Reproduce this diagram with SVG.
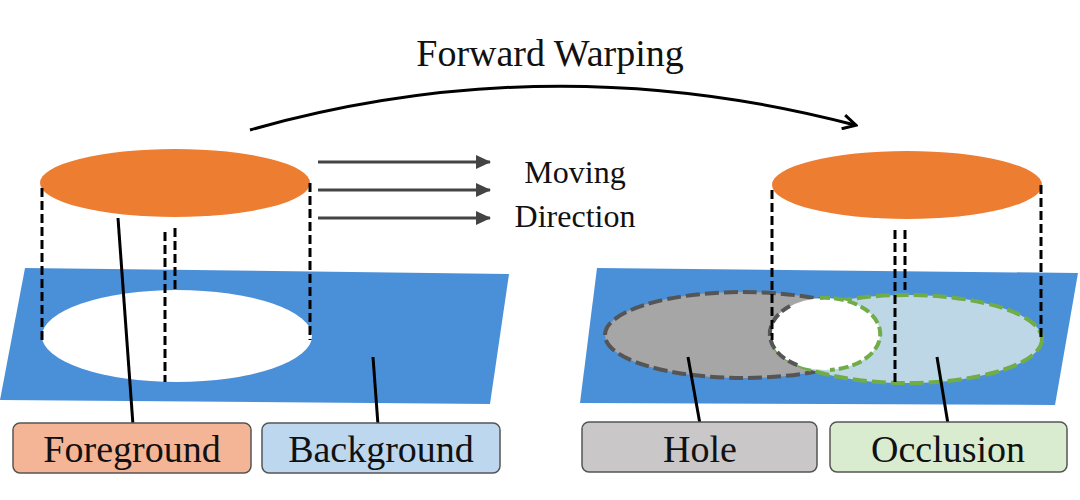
<svg xmlns="http://www.w3.org/2000/svg" width="1080" height="500" viewBox="0 0 1080 500">
<style>
text{font-family:"Liberation Serif","Times New Roman","DejaVu Serif",serif;fill:#111}
.dash{stroke:#000;stroke-width:3;stroke-dasharray:9,4;fill:none}
.lead{stroke:#000;stroke-width:3;fill:none}
.box{stroke:#555;stroke-width:1.5}
</style>
<defs>
<marker id="ah" markerWidth="16" markerHeight="14" refX="14" refY="7" orient="auto" markerUnits="userSpaceOnUse"><path d="M0,0 L15,7 L0,14 Z" fill="#444"/></marker>
<marker id="ah2" markerWidth="16" markerHeight="16" refX="13" refY="8" orient="auto" markerUnits="userSpaceOnUse"><path d="M1,1 L14,8 L1,15" fill="none" stroke="#000" stroke-width="3"/></marker>
</defs>
<rect width="1080" height="500" fill="#fff"/>
<text x="550" y="66" font-size="38" text-anchor="middle">Forward Warping</text>
<g id="left">
<polygon points="25,268 509,274 490,404 0,400" fill="#4a90d9"/>
<ellipse cx="177" cy="336" rx="135" ry="46" fill="#fff"/>
<ellipse cx="175" cy="183" rx="135" ry="34" fill="#ed7d31"/>
</g>
<g id="right">
<polygon points="597,268 1078,273 1055,405 580,403" fill="#4a90d9"/>
<ellipse cx="743" cy="335" rx="138" ry="43" fill="#a6a6a6" stroke="#555" stroke-width="4" stroke-dasharray="14,5"/>
<ellipse cx="907" cy="339" rx="135" ry="44" fill="#bdd7e6" stroke="#70ad47" stroke-width="4" stroke-dasharray="14,5"/>
<ellipse cx="825" cy="334" rx="55" ry="36" fill="#fff"/>
<path d="M790,306 A55,36 0 0,0 800,366" stroke="#555" stroke-width="4" fill="none" stroke-dasharray="10,4"/>
<path d="M820,298 A55,36 0 0,1 830,370" stroke="#70ad47" stroke-width="4" fill="none" stroke-dasharray="10,4"/>
<ellipse cx="907" cy="185" rx="135" ry="34" fill="#ed7d31"/>
</g>
<g id="connectors">
<path d="M250,130 Q550,45 855,125" stroke="#000" stroke-width="3" fill="none" marker-end="url(#ah2)"/>
<line x1="318" y1="162" x2="490" y2="162" stroke="#444" stroke-width="3" marker-end="url(#ah)"/>
<line x1="318" y1="190" x2="490" y2="190" stroke="#444" stroke-width="3" marker-end="url(#ah)"/>
<line x1="318" y1="218" x2="490" y2="218" stroke="#444" stroke-width="3" marker-end="url(#ah)"/>
<line class="dash" x1="42" y1="188" x2="42" y2="340"/>
<line class="dash" x1="310" y1="183" x2="310" y2="340"/>
<line class="dash" x1="165" y1="232" x2="165" y2="382"/>
<line class="dash" x1="175" y1="228" x2="175" y2="290"/>
<line class="lead" x1="118" y1="218" x2="133" y2="425"/>
<line class="lead" x1="373" y1="357" x2="378" y2="425"/>
<line class="dash" x1="772" y1="190" x2="772" y2="340"/>
<line class="dash" x1="1041" y1="185" x2="1041" y2="340"/>
<line class="dash" x1="895" y1="230" x2="895" y2="382"/>
<line class="dash" x1="905" y1="230" x2="905" y2="290"/>
<line class="lead" x1="688" y1="357" x2="700" y2="424"/>
<line class="lead" x1="937" y1="357" x2="948" y2="424"/>
</g>
<text x="575" y="183" font-size="32" text-anchor="middle">Moving</text>
<text x="575" y="227" font-size="32" text-anchor="middle">Direction</text>
<g id="fg"><rect class="box" x="13" y="423" width="238" height="50" rx="7" fill="#f4b596"/><text x="132" y="462" font-size="38" text-anchor="middle">Foreground</text></g>
<g id="bg"><rect class="box" x="262" y="423" width="238" height="50" rx="7" fill="#bdd7ee"/><text x="381" y="462" font-size="38" text-anchor="middle">Background</text></g>
<g id="hole"><rect class="box" x="582" y="422" width="235" height="50" rx="7" fill="#c9c7c7"/><text x="700" y="462" font-size="38" text-anchor="middle">Hole</text></g>
<g id="occ"><rect class="box" x="830" y="422" width="237" height="50" rx="7" fill="#d9ecd0"/><text x="948" y="462" font-size="38" text-anchor="middle">Occlusion</text></g>
</svg>
